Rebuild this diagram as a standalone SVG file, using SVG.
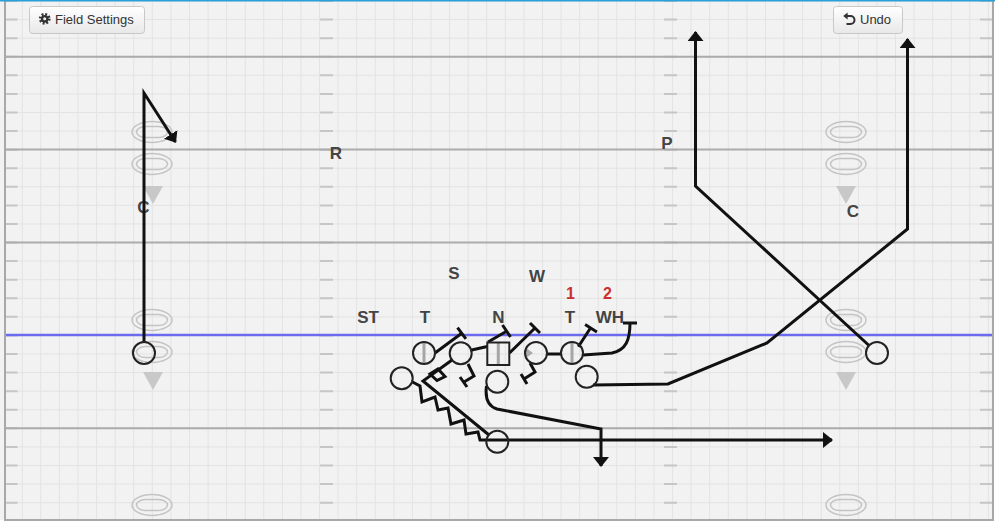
<svg xmlns="http://www.w3.org/2000/svg" width="1000" height="528" viewBox="0 0 1000 528">
<defs>
<style>
.lbl{font-family:"Liberation Sans",Arial,sans-serif;font-weight:bold;font-size:17px;fill:#444;text-anchor:middle}
.num{font-family:"Liberation Sans",Arial,sans-serif;font-weight:bold;font-size:16px;fill:#c9302c;text-anchor:middle}
.btn{fill:url(#bgr);stroke:#c8c8c8;stroke-width:1}
.btxt{font-family:"Liberation Sans",Arial,sans-serif;font-size:13px;fill:#333}
.grid{stroke:#e3e3e3;stroke-width:1;fill:none}
.yard{stroke:#ababab;stroke-width:2;fill:none}
.tick{stroke:#c6c6c6;stroke-width:13;stroke-dasharray:2 16.58}
.oval{fill:none;stroke:#c4c4c4;stroke-width:1.5}
.tri{fill:#c8c8c8}
.route{fill:none;stroke:#111;stroke-width:3;stroke-linejoin:miter}
.arr{marker-end:url(#ah)}
.p{fill:none;stroke:#222;stroke-width:2}
.bar{fill:#a6a6a6}
</style>
<linearGradient id="bgr" x1="0" y1="0" x2="0" y2="1"><stop offset="0" stop-color="#ffffff"/><stop offset="1" stop-color="#e8e8e8"/></linearGradient>
<marker id="ah" viewBox="0 0 10 16" refX="9" refY="8" markerWidth="10" markerHeight="16" markerUnits="userSpaceOnUse" orient="auto"><path d="M0,0 L10,8 L0,16 z" fill="#111"/></marker>
<g id="zero"><ellipse class="oval" cx="0" cy="0" rx="20" ry="10.5"/><rect class="oval" x="-15.5" y="-5.5" width="31" height="11" rx="9" ry="5.5"/></g>
</defs>
<rect x="0" y="0" width="1000" height="528" fill="#ffffff"/>
<rect x="0" y="0" width="994" height="520" fill="#f2f2f2"/>
<g id="field">
<path class="grid" d="M22.3,0V520M40.8,0V520M59.4,0V520M78,0V520M96.6,0V520M115.2,0V520M133.7,0V520M152.3,0V520M170.9,0V520M189.5,0V520M208.1,0V520M226.6,0V520M245.2,0V520M263.8,0V520M282.4,0V520M301,0V520M319.5,0V520M338.1,0V520M356.7,0V520M375.3,0V520M393.9,0V520M412.4,0V520M431,0V520M449.6,0V520M468.2,0V520M486.8,0V520M505.3,0V520M523.9,0V520M542.5,0V520M561.1,0V520M579.7,0V520M598.2,0V520M616.8,0V520M635.4,0V520M654,0V520M672.6,0V520M691.1,0V520M709.7,0V520M728.3,0V520M746.9,0V520M765.5,0V520M784,0V520M802.6,0V520M821.2,0V520M839.8,0V520M858.4,0V520M876.9,0V520M895.5,0V520M914.1,0V520M932.7,0V520M951.3,0V520M969.8,0V520M988.4,0V520M5,1H993M5,19.6H993M5,38.2H993M5,75.3H993M5,93.9H993M5,112.5H993M5,131.1H993M5,168.2H993M5,186.8H993M5,205.4H993M5,224H993M5,261.1H993M5,279.7H993M5,298.3H993M5,316.9H993M5,354H993M5,372.6H993M5,391.2H993M5,409.8H993M5,446.9H993M5,465.5H993M5,484.1H993M5,502.7H993"/>
<line class="tick" x1="11" y1="0" x2="11" y2="520"/>
<line class="tick" x1="326.5" y1="0" x2="326.5" y2="520"/>
<line class="tick" x1="670.5" y1="0" x2="670.5" y2="520"/>
<line class="tick" x1="986.5" y1="0" x2="986.5" y2="520"/>
<path class="yard" d="M5,56.7H993M5,149.6H993M5,242.5H993M5,428.3H993"/>
<line x1="5" y1="335" x2="993" y2="335" stroke="#6b6bf0" stroke-width="2.5"/>
<path d="M5,0V520H993V0" fill="none" stroke="#a8a8a8" stroke-width="2"/>
<rect x="0" y="0" width="995" height="1.5" fill="#2a9fd8"/>
<use href="#zero" x="152" y="132"/><use href="#zero" x="152" y="164"/><use href="#zero" x="152" y="320"/><use href="#zero" x="152" y="352"/><use href="#zero" x="152" y="505"/>
<use href="#zero" x="846" y="132"/><use href="#zero" x="846" y="164"/><use href="#zero" x="846" y="320"/><use href="#zero" x="846" y="352"/><use href="#zero" x="846" y="505"/>
<polygon class="tri" points="143,186 163,186 153,204"/><polygon class="tri" points="143,372 163,372 153,390"/>
<polygon class="tri" points="836,186 856,186 846,204"/><polygon class="tri" points="836,372 856,372 846,390"/>
</g>
<g id="btn-settings">
<rect class="btn" x="29.5" y="6.5" width="115" height="27" rx="3"/>
<circle cx="44.7" cy="18.8" r="4.6" fill="none" stroke="#333" stroke-width="2.6" stroke-dasharray="1.8 1.81"/>
<circle cx="44.7" cy="18.8" r="3.9" fill="#333"/>
<circle cx="44.7" cy="18.8" r="1.5" fill="#f4f4f4"/>
<text class="btxt" x="55" y="23.5">Field Settings</text>
</g>
<g id="btn-undo">
<rect class="btn" x="833.5" y="6.5" width="69" height="27" rx="3"/>
<path d="M847,16 H850.5 A4,4 0 0 1 850.5,24 H846.5" fill="none" stroke="#333" stroke-width="2"/>
<polygon points="843.2,16 847.6,12.4 847.6,19.6" fill="#333"/>
<text class="btxt" x="860" y="23.5">Undo</text>
</g>
<g id="labels">
<g id="d-R"><text class="lbl" x="336" y="159">R</text></g>
<g id="d-P"><text class="lbl" x="667" y="149">P</text></g>
<g id="d-C1"><text class="lbl" x="143.5" y="213">C</text></g>
<g id="d-C2"><text class="lbl" x="853" y="217">C</text></g>
<g id="d-S"><text class="lbl" x="454" y="279">S</text></g>
<g id="d-W"><text class="lbl" x="537" y="282">W</text></g>
<g id="d-ST"><text class="lbl" x="368" y="323">ST</text></g>
<g id="d-T1"><text class="lbl" x="425" y="323">T</text></g>
<g id="d-N"><text class="lbl" x="498.5" y="323">N</text></g>
<g id="d-T2"><text class="lbl" x="570" y="323">T</text></g>
<g id="d-WH"><text class="lbl" x="610" y="323">WH</text></g>
<g id="n-1"><text class="num" x="570.5" y="299">1</text></g>
<g id="n-2"><text class="num" x="607.5" y="299">2</text></g>
</g>
<g id="connectors">
<path class="route arr" d="M144,342 V93 L175.5,142"/>
<path class="route arr" d="M869,345.5 L695.5,186 V32"/>
<path class="route arr" d="M593,385 L668,384 L767,343 L907.5,229 V39"/>
<path class="route arr" d="M412.5,382 L420,386 L422,402 L435,397 L438,410 L448,408 L451,424 L464,420 L466,434 L478,432 L480,440 H832"/>
<path class="route" d="M452,360 L423,381 L489,435"/>
<polygon class="route" stroke-width="2.5" points="430,374 437,380.5 445,376.5 438,369"/>
<path class="route arr" d="M486.5,386 Q484,405 497,409 L601,429 V466"/>
<path class="route" d="M435,353 L461.7,333.3 M457.5,327.7 L465.9,338.9"/>
<path class="route" d="M471.7,350 L487.3,346.5 M488,342 L507,331 M502.5,325 L510.5,337"/>
<path class="route" d="M509.5,353 L535,328 M530,323 L540,333"/>
<path class="route" d="M547,354 H561"/>
<path class="route" d="M578.3,346.7 L590.5,328 M585.1,324.6 L596.9,332"/>
<path class="route" d="M583,355 L612,353 C626,350 630,340 630,323 M623,323 H637"/>
<path class="route" d="M468,364 L474,376 L464,382 M460,377 L467,387"/>
<path class="route" d="M530,363 L535,372 L524,379 M521,374 L527,384"/>
<polygon points="526,348 533,353 526,358" fill="#aaa"/>
</g>
<g id="p-lwr"><circle class="p" cx="144" cy="353" r="11"/></g>
<g id="p-rwr"><circle class="p" cx="877" cy="353" r="11"/></g>
<g id="p-lt"><rect class="bar" x="422.5" y="342" width="3" height="22"/><circle class="p" cx="424" cy="353" r="11"/></g>
<g id="p-lg"><circle class="p" cx="460.7" cy="353.3" r="11"/></g>
<g id="p-c"><rect class="bar" x="496.8" y="342.5" width="3" height="22.5"/><rect class="p" x="487.3" y="342.5" width="22" height="22.5"/></g>
<g id="p-rg"><circle class="p" cx="536" cy="353" r="11"/></g>
<g id="p-rt"><rect class="bar" x="570.5" y="342" width="3" height="22"/><circle class="p" cx="572" cy="353" r="11"/></g>
<g id="p-hb"><circle class="p" cx="401.7" cy="378.3" r="11"/></g>
<g id="p-qb"><circle class="p" cx="497.3" cy="381.7" r="11"/></g>
<g id="p-fb"><circle class="p" cx="497.3" cy="441.7" r="11"/></g>
<g id="p-slot"><circle class="p" cx="586.7" cy="376.7" r="11"/></g>
</svg>
